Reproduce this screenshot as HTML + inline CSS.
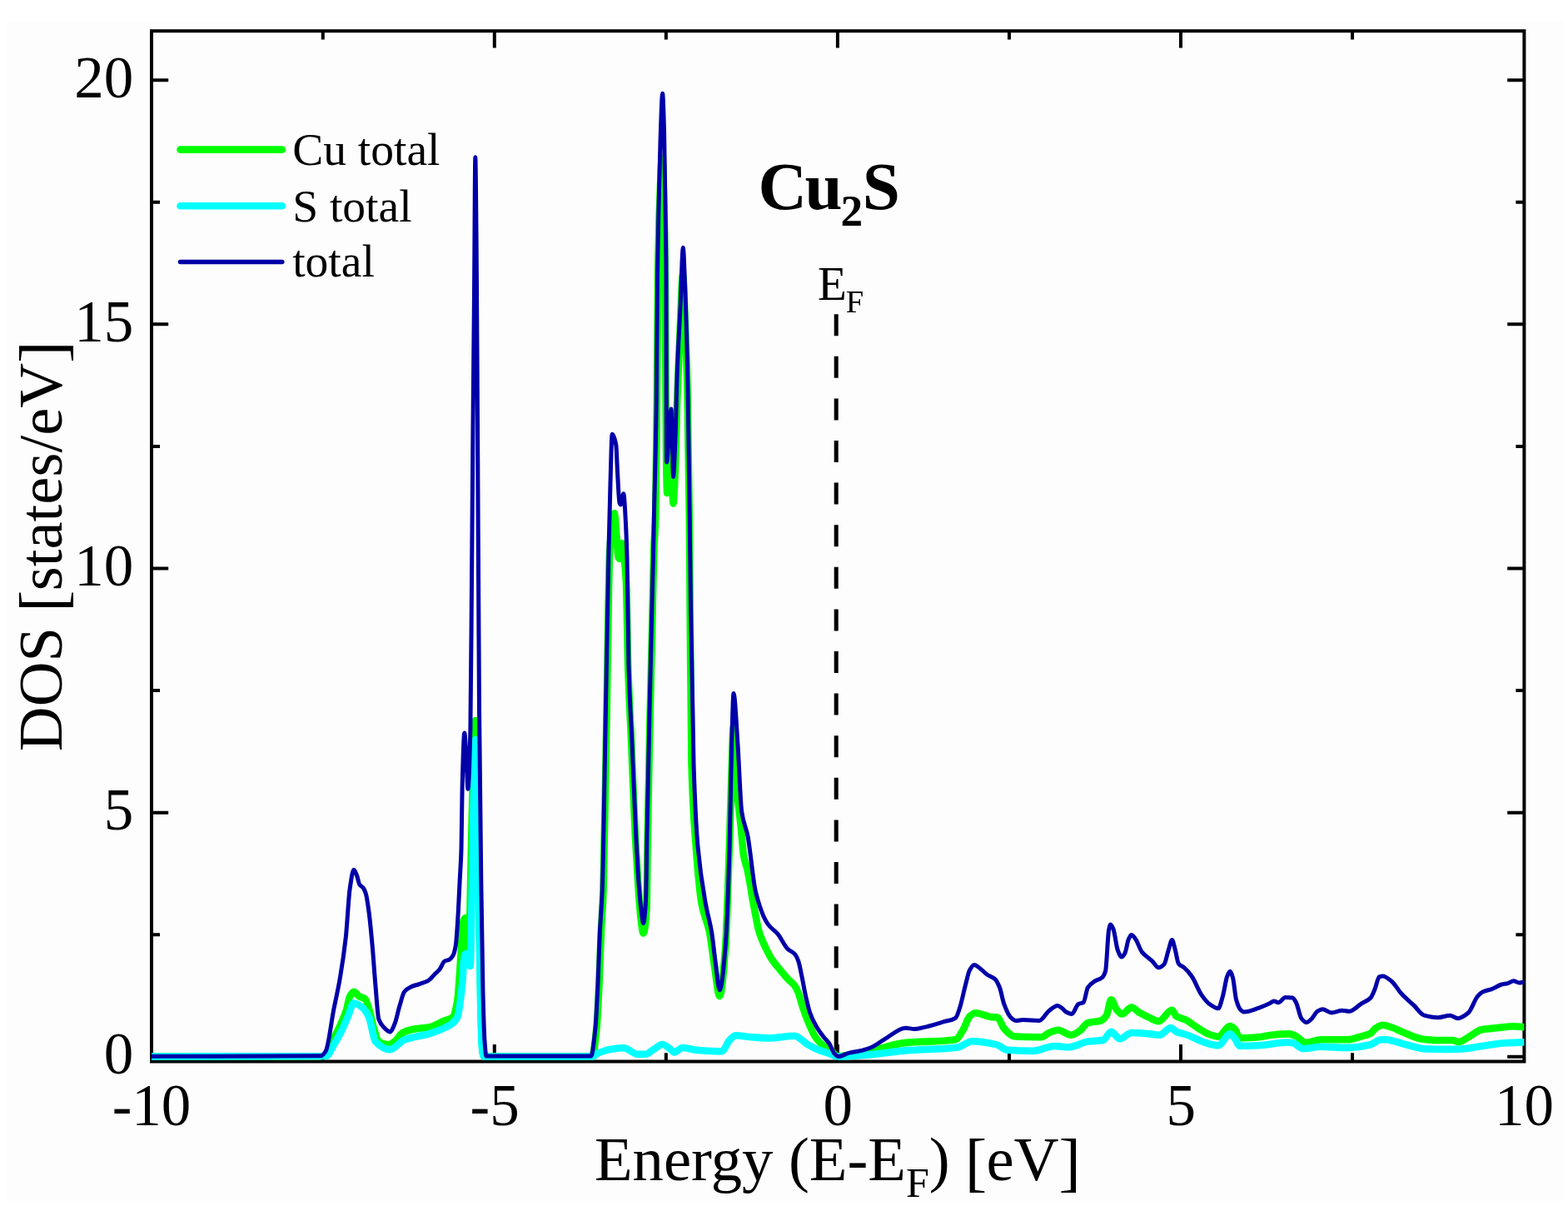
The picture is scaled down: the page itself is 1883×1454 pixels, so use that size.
<!DOCTYPE html>
<html><head><meta charset="utf-8"><title>DOS Cu2S</title>
<style>
html,body{margin:0;padding:0;background:#fff;}
body{width:1883px;height:1454px;overflow:hidden;}
svg{display:block;}
text{font-family:"Liberation Serif","Times New Roman",serif;fill:#000;}
</style></head><body>
<svg width="1883" height="1454" viewBox="0 0 1883 1454">
<rect x="0" y="0" width="1883" height="1454" fill="#ffffff"/>
<rect x="8" y="25" width="1872" height="1419" fill="#fdfdfd"/>
<defs><clipPath id="pc"><rect x="182" y="0" width="1648.4" height="1277.5"/></clipPath></defs>
<line x1="1004.2" y1="377.2" x2="1004.2" y2="1266" stroke="#000" stroke-width="5" stroke-dasharray="26 24.6"/>
<path d="M387.75 37.20 V47.40 M387.75 1274.50 V1264.30 M593.80 37.20 V57.60 M593.80 1274.50 V1254.10 M799.85 37.20 V47.40 M799.85 1274.50 V1264.30 M1005.90 37.20 V57.60 M1005.90 1274.50 V1254.10 M1211.95 37.20 V47.40 M1211.95 1274.50 V1264.30 M1418.00 37.20 V57.60 M1418.00 1274.50 V1254.10 M1624.05 37.20 V47.40 M1624.05 1274.50 V1264.30 M182.00 1268.80 H202.20 M1830.40 1268.80 H1810.20 M182.00 1122.22 H192.00 M1830.40 1122.22 H1820.40 M182.00 975.65 H202.20 M1830.40 975.65 H1810.20 M182.00 829.07 H192.00 M1830.40 829.07 H1820.40 M182.00 682.50 H202.20 M1830.40 682.50 H1810.20 M182.00 535.92 H192.00 M1830.40 535.92 H1820.40 M182.00 389.35 H202.20 M1830.40 389.35 H1810.20 M182.00 242.77 H192.00 M1830.40 242.77 H1820.40 M182.00 96.20 H202.20 M1830.40 96.20 H1810.20" stroke="#000" stroke-width="4" fill="none"/>
<rect x="182" y="37.2" width="1648.4" height="1237.3" fill="none" stroke="#000" stroke-width="4"/>
<g clip-path="url(#pc)">
<path d="M182.00 1268.50 C251.33 1268.33 320.67 1268.48 390.00 1268.00 C392.97 1267.98 395.93 1256.40 398.90 1250.50 C402.10 1244.14 405.30 1238.35 408.50 1231.20 C411.07 1225.46 413.63 1220.07 416.20 1212.00 C417.50 1207.91 418.80 1198.92 420.10 1196.50 C421.70 1193.52 423.30 1190.80 424.90 1190.80 C427.13 1190.80 429.37 1195.23 431.60 1196.50 C433.87 1197.79 436.13 1197.67 438.40 1199.40 C440.00 1200.62 441.60 1206.98 443.20 1212.00 C445.13 1218.07 447.07 1228.83 449.00 1235.00 C450.93 1241.17 452.87 1249.26 454.80 1250.50 C458.63 1252.97 462.47 1254.30 466.30 1254.30 C468.87 1254.30 471.43 1252.22 474.00 1250.50 C477.23 1248.33 480.47 1241.60 483.70 1239.90 C487.53 1237.89 491.37 1236.78 495.20 1236.00 C502.27 1234.56 509.33 1234.60 516.40 1233.10 C522.20 1231.87 528.00 1227.81 533.80 1225.40 C537.00 1224.07 540.20 1224.02 543.40 1221.60 C545.33 1220.14 547.27 1212.92 549.20 1202.30 C550.47 1195.34 551.73 1172.08 553.00 1154.10 C553.97 1140.38 554.93 1111.34 555.90 1107.90 C556.87 1104.46 557.83 1102.10 558.80 1102.10 C559.47 1102.10 560.13 1132.16 560.80 1134.90 C561.53 1137.91 562.27 1140.00 563.00 1140.00 C563.83 1140.00 564.67 1074.92 565.50 1040.00 C566.33 1005.08 567.17 954.45 568.00 930.00 C569.00 900.66 570.00 865.00 571.00 865.00 C571.83 865.00 572.67 918.50 573.50 960.00 C574.17 993.20 574.83 1058.93 575.50 1100.00 C576.17 1141.07 576.83 1186.46 577.50 1210.00 C578.17 1233.54 578.83 1258.75 579.50 1262.00 C580.33 1266.06 581.17 1268.50 582.00 1268.50 C625.00 1268.50 668.00 1268.50 711.00 1268.50 C712.83 1268.50 714.67 1251.80 716.50 1234.00 C717.50 1224.29 718.50 1202.32 719.50 1181.00 C720.27 1164.65 721.03 1137.34 721.80 1120.50 C722.70 1100.73 723.60 1094.08 724.50 1070.00 C725.83 1034.32 727.17 930.09 728.50 860.00 C729.77 793.42 731.03 679.77 732.30 660.00 C733.37 643.36 734.43 637.71 735.50 630.00 C736.27 624.46 737.03 616.20 737.80 616.20 C738.70 616.20 739.60 634.89 740.50 645.00 C741.20 652.86 741.90 668.97 742.60 669.80 C743.23 670.55 743.87 671.00 744.50 671.00 C745.27 671.00 746.03 652.00 746.80 652.00 C747.53 652.00 748.27 659.34 749.00 665.00 C750.00 672.72 751.00 680.85 752.00 700.00 C752.73 714.04 753.47 776.87 754.20 800.00 C755.53 842.06 756.87 860.75 758.20 892.00 C759.73 927.94 761.27 971.72 762.80 1002.00 C763.93 1024.38 765.07 1043.62 766.20 1060.00 C767.40 1077.34 768.60 1095.72 769.80 1105.00 C770.70 1111.96 771.60 1120.50 772.50 1120.50 C773.83 1120.50 775.17 1111.20 776.50 1090.00 C776.93 1083.11 777.37 1025.67 777.80 1000.00 C778.73 944.72 779.67 902.33 780.60 860.00 C781.40 823.72 782.20 794.05 783.00 760.00 C783.77 727.37 784.53 681.51 785.30 660.00 C785.93 642.23 786.57 641.47 787.20 620.00 C787.77 600.79 788.33 534.87 788.90 480.00 C789.33 438.04 789.77 358.49 790.20 330.00 C790.80 290.56 791.40 266.45 792.00 250.00 C793.07 220.76 794.13 190.00 795.20 190.00 C795.93 190.00 796.67 222.19 797.40 250.00 C797.87 267.69 798.33 286.67 798.80 330.00 C799.03 351.67 799.27 424.98 799.50 460.00 C799.77 500.02 800.03 545.07 800.30 560.00 C800.60 576.79 800.90 592.00 801.20 592.00 C802.13 592.00 803.07 579.12 804.00 570.00 C804.67 563.48 805.33 545.00 806.00 545.00 C806.83 545.00 807.67 604.60 808.50 604.60 C809.20 604.60 809.90 585.43 810.60 570.00 C811.47 550.89 812.33 504.89 813.20 480.00 C814.30 448.41 815.40 424.13 816.50 400.00 C817.67 374.41 818.83 330.00 820.00 330.00 C820.83 330.00 821.67 360.12 822.50 380.00 C823.50 403.86 824.50 428.22 825.50 470.00 C826.27 502.03 827.03 549.64 827.80 620.00 C828.07 644.47 828.33 693.08 828.60 724.00 C829.23 797.43 829.87 894.10 830.50 916.90 C832.17 976.89 833.83 990.41 835.50 1013.00 C837.87 1045.08 840.23 1072.46 842.60 1085.30 C845.73 1102.29 848.87 1103.92 852.00 1119.00 C854.00 1128.63 856.00 1147.44 858.00 1160.00 C860.07 1172.98 862.13 1196.00 864.20 1196.00 C866.47 1196.00 868.73 1168.94 871.00 1140.00 C872.67 1118.72 874.33 1061.59 876.00 1013.00 C876.93 985.79 877.87 945.78 878.80 920.00 C879.47 901.59 880.13 872.00 880.80 872.00 C881.30 872.00 881.80 881.29 882.30 890.00 C882.80 898.71 883.30 929.63 883.80 937.60 C884.53 949.28 885.27 953.41 886.00 960.00 C886.70 966.29 887.40 970.67 888.10 976.90 C888.97 984.61 889.83 994.17 890.70 1003.00 C891.47 1010.82 892.23 1022.23 893.00 1026.80 C894.53 1035.93 896.07 1037.79 897.60 1044.70 C898.73 1049.81 899.87 1056.15 901.00 1062.60 C901.97 1068.10 902.93 1075.00 903.90 1080.50 C905.03 1086.95 906.17 1092.60 907.30 1098.40 C908.50 1104.54 909.70 1111.94 910.90 1116.30 C912.53 1122.23 914.17 1126.04 915.80 1130.00 C917.03 1132.99 918.27 1135.51 919.50 1138.00 C921.87 1142.79 924.23 1147.66 926.60 1151.30 C930.10 1156.68 933.60 1160.45 937.10 1164.70 C940.70 1169.07 944.30 1173.52 947.90 1177.20 C949.83 1179.17 951.77 1180.19 953.70 1182.60 C955.33 1184.64 956.97 1187.76 958.60 1191.60 C960.40 1195.83 962.20 1204.07 964.00 1209.40 C966.23 1216.02 968.47 1221.98 970.70 1227.30 C973.30 1233.50 975.90 1239.97 978.50 1244.00 C980.67 1247.36 982.83 1249.86 985.00 1252.00 C987.27 1254.24 989.53 1255.95 991.80 1257.60 C993.93 1259.16 996.07 1260.24 998.20 1261.80 C1000.80 1263.70 1003.40 1268.30 1006.00 1268.30 C1019.50 1268.30 1033.00 1264.06 1046.50 1261.40 C1059.77 1258.78 1073.03 1253.49 1086.30 1252.10 C1106.67 1249.97 1127.03 1251.38 1147.40 1248.20 C1150.50 1247.72 1153.60 1241.10 1156.70 1236.20 C1159.33 1232.03 1161.97 1222.69 1164.60 1220.30 C1166.83 1218.27 1169.07 1216.30 1171.30 1216.30 C1177.50 1216.30 1183.70 1220.14 1189.90 1220.90 C1192.53 1221.22 1195.17 1221.16 1197.80 1221.60 C1200.47 1222.05 1203.13 1232.00 1205.80 1234.90 C1209.77 1239.22 1213.73 1243.83 1217.70 1244.20 C1223.47 1244.73 1229.23 1244.84 1235.00 1245.00 C1240.20 1245.14 1245.40 1245.30 1250.60 1245.30 C1253.70 1245.30 1256.80 1241.26 1259.90 1240.00 C1263.43 1238.57 1266.97 1236.70 1270.50 1236.70 C1275.83 1236.70 1281.17 1242.70 1286.50 1242.70 C1290.03 1242.70 1293.57 1239.77 1297.10 1237.40 C1300.20 1235.32 1303.30 1229.06 1306.40 1228.10 C1311.70 1226.46 1317.00 1227.10 1322.30 1225.40 C1324.53 1224.68 1326.77 1222.31 1329.00 1218.80 C1330.77 1216.02 1332.53 1200.20 1334.30 1200.20 C1336.50 1200.20 1338.70 1209.62 1340.90 1212.10 C1343.10 1214.58 1345.30 1217.50 1347.50 1217.50 C1351.27 1217.50 1355.03 1209.50 1358.80 1209.50 C1362.13 1209.50 1365.47 1214.20 1368.80 1216.10 C1372.33 1218.11 1375.87 1219.84 1379.40 1221.40 C1383.40 1223.16 1387.40 1226.10 1391.40 1226.10 C1396.77 1226.10 1402.13 1212.80 1407.50 1212.80 C1409.20 1212.80 1410.90 1219.01 1412.60 1220.10 C1416.13 1222.36 1419.67 1222.43 1423.20 1224.10 C1428.53 1226.62 1433.87 1231.49 1439.20 1234.70 C1443.60 1237.34 1448.00 1240.49 1452.40 1242.00 C1455.93 1243.22 1459.47 1244.70 1463.00 1244.70 C1467.67 1244.70 1472.33 1232.10 1477.00 1232.10 C1479.07 1232.10 1481.13 1234.01 1483.20 1236.00 C1484.97 1237.70 1486.73 1246.20 1488.50 1246.20 C1496.30 1246.20 1504.10 1245.74 1511.90 1245.20 C1517.57 1244.81 1523.23 1242.98 1528.90 1242.50 C1535.27 1241.96 1541.63 1241.40 1548.00 1241.40 C1550.83 1241.40 1553.67 1242.89 1556.50 1244.10 C1560.40 1245.76 1564.30 1252.10 1568.20 1252.10 C1574.20 1252.10 1580.20 1248.30 1586.20 1248.30 C1596.83 1248.30 1607.47 1248.30 1618.10 1248.30 C1623.40 1248.30 1628.70 1246.03 1634.00 1244.60 C1637.90 1243.55 1641.80 1242.89 1645.70 1240.90 C1647.80 1239.83 1649.90 1235.80 1652.00 1234.50 C1654.87 1232.73 1657.73 1230.80 1660.60 1230.80 C1664.13 1230.80 1667.67 1232.38 1671.20 1233.50 C1675.43 1234.84 1679.67 1237.24 1683.90 1238.90 C1691.87 1242.03 1699.83 1246.50 1707.80 1247.50 C1714.17 1248.30 1720.53 1249.00 1726.90 1249.00 C1732.63 1249.00 1738.37 1249.00 1744.10 1249.00 C1746.67 1249.00 1749.23 1250.90 1751.80 1250.90 C1756.27 1250.90 1760.73 1246.60 1765.20 1244.20 C1769.63 1241.82 1774.07 1237.42 1778.50 1236.50 C1785.20 1235.11 1791.90 1234.83 1798.60 1234.10 C1804.97 1233.41 1811.33 1232.20 1817.70 1232.20 C1821.87 1232.20 1826.03 1232.87 1830.20 1233.20" fill="none" stroke="#00ff00" stroke-width="8.6" stroke-linejoin="round" stroke-linecap="round"/>
<path d="M182.00 1268.50 C252.00 1268.33 322.00 1268.48 392.00 1268.00 C394.67 1267.98 397.33 1260.35 400.00 1256.00 C403.33 1250.56 406.67 1244.69 410.00 1238.00 C412.67 1232.64 415.33 1226.05 418.00 1220.00 C420.30 1214.78 422.60 1204.20 424.90 1204.20 C428.43 1204.20 431.97 1207.09 435.50 1210.00 C438.07 1212.11 440.63 1216.08 443.20 1221.60 C445.77 1227.12 448.33 1247.77 450.90 1250.50 C456.70 1256.67 462.50 1260.10 468.30 1260.10 C474.07 1260.10 479.83 1250.69 485.60 1248.50 C495.87 1244.59 506.13 1244.04 516.40 1240.80 C524.13 1238.36 531.87 1236.00 539.60 1231.20 C542.80 1229.21 546.00 1227.52 549.20 1221.60 C551.13 1218.02 553.07 1200.72 555.00 1183.00 C555.93 1174.44 556.87 1147.33 557.80 1146.40 C558.70 1145.51 559.60 1145.00 560.50 1145.00 C561.23 1145.00 561.97 1151.39 562.70 1154.00 C563.33 1156.25 563.97 1160.00 564.60 1160.00 C565.17 1160.00 565.73 1123.86 566.30 1100.00 C566.93 1073.34 567.57 1032.47 568.20 1000.00 C568.80 969.24 569.40 927.68 570.00 910.00 C570.33 900.18 570.67 888.00 571.00 888.00 C571.67 888.00 572.33 923.57 573.00 950.00 C573.67 976.43 574.33 1018.93 575.00 1060.00 C575.67 1101.07 576.33 1170.79 577.00 1200.00 C577.57 1224.83 578.13 1248.56 578.70 1255.00 C579.37 1262.58 580.03 1268.50 580.70 1268.50 C624.47 1268.50 668.23 1268.50 712.00 1268.50 C713.73 1268.50 715.47 1265.86 717.20 1265.00 C719.80 1263.70 722.40 1262.79 725.00 1262.00 C727.97 1261.10 730.93 1260.24 733.90 1259.80 C738.93 1259.06 743.97 1258.30 749.00 1258.30 C754.57 1258.30 760.13 1265.80 765.70 1265.80 C768.73 1265.80 771.77 1265.80 774.80 1265.80 C778.20 1265.80 781.60 1261.94 785.00 1260.00 C788.50 1258.00 792.00 1254.00 795.50 1254.00 C799.17 1254.00 802.83 1258.28 806.50 1261.00 C807.53 1261.77 808.57 1263.60 809.60 1263.60 C812.90 1263.60 816.20 1258.00 819.50 1258.00 C825.57 1258.00 831.63 1260.53 837.70 1261.00 C847.33 1261.75 856.97 1262.40 866.60 1262.40 C869.80 1262.40 873.00 1252.07 876.20 1248.90 C878.63 1246.49 881.07 1243.20 883.50 1243.20 C889.10 1243.20 894.70 1244.55 900.30 1245.00 C908.33 1245.64 916.37 1246.50 924.40 1246.50 C934.43 1246.50 944.47 1243.70 954.50 1243.70 C957.00 1243.70 959.50 1246.38 962.00 1248.00 C964.83 1249.84 967.67 1252.67 970.50 1254.40 C974.77 1257.00 979.03 1259.11 983.30 1260.80 C987.57 1262.49 991.83 1263.47 996.10 1265.00 C998.93 1266.01 1001.77 1268.12 1004.60 1268.30 C1006.40 1268.41 1008.20 1268.50 1010.00 1268.50 C1022.17 1268.50 1034.33 1267.11 1046.50 1266.10 C1060.20 1264.96 1073.90 1262.53 1087.60 1261.40 C1108.40 1259.68 1129.20 1260.13 1150.00 1257.50 C1155.77 1256.77 1161.53 1250.20 1167.30 1250.20 C1177.03 1250.20 1186.77 1251.88 1196.50 1254.10 C1200.93 1255.11 1205.37 1260.46 1209.80 1260.80 C1219.87 1261.57 1229.93 1261.90 1240.00 1261.90 C1248.87 1261.90 1257.73 1256.00 1266.60 1256.00 C1272.33 1256.00 1278.07 1257.30 1283.80 1257.30 C1291.33 1257.30 1298.87 1251.73 1306.40 1250.60 C1312.60 1249.67 1318.80 1249.97 1325.00 1248.70 C1328.10 1248.06 1331.20 1238.70 1334.30 1238.70 C1337.83 1238.70 1341.37 1247.30 1344.90 1247.30 C1349.53 1247.30 1354.17 1240.00 1358.80 1240.00 C1366.10 1240.00 1373.40 1240.80 1380.70 1241.40 C1384.70 1241.73 1388.70 1242.70 1392.70 1242.70 C1397.13 1242.70 1401.57 1234.00 1406.00 1234.00 C1408.20 1234.00 1410.40 1237.73 1412.60 1238.70 C1417.03 1240.66 1421.47 1241.15 1425.90 1242.70 C1432.53 1245.03 1439.17 1249.31 1445.80 1251.30 C1451.53 1253.02 1457.27 1255.30 1463.00 1255.30 C1467.67 1255.30 1472.33 1241.40 1477.00 1241.40 C1479.07 1241.40 1481.13 1244.81 1483.20 1247.30 C1484.97 1249.42 1486.73 1255.80 1488.50 1255.80 C1496.30 1255.80 1504.10 1255.51 1511.90 1255.20 C1523.23 1254.75 1534.57 1251.50 1545.90 1251.50 C1548.00 1251.50 1550.10 1251.79 1552.20 1252.10 C1556.47 1252.74 1560.73 1259.00 1565.00 1259.00 C1572.07 1259.00 1579.13 1256.80 1586.20 1256.80 C1596.83 1256.80 1607.47 1257.90 1618.10 1257.90 C1627.30 1257.90 1636.50 1256.25 1645.70 1254.20 C1649.93 1253.25 1654.17 1248.30 1658.40 1248.30 C1660.90 1248.30 1663.40 1248.30 1665.90 1248.30 C1667.13 1248.30 1668.37 1248.74 1669.60 1249.00 C1675.97 1250.37 1682.33 1252.64 1688.70 1254.20 C1696.67 1256.15 1704.63 1259.25 1712.60 1259.50 C1720.57 1259.75 1728.53 1259.90 1736.50 1259.90 C1744.47 1259.90 1752.43 1259.49 1760.40 1259.00 C1768.37 1258.51 1776.33 1256.30 1784.30 1255.20 C1792.27 1254.10 1800.23 1252.82 1808.20 1252.30 C1815.53 1251.82 1822.87 1251.63 1830.20 1251.30" fill="none" stroke="#00ffff" stroke-width="8.6" stroke-linejoin="round" stroke-linecap="round"/>
<path d="M182.00 1268.30 C249.80 1268.13 317.60 1268.28 385.40 1267.80 C387.33 1267.79 389.27 1265.07 391.20 1262.00 C394.40 1256.91 397.60 1228.34 400.80 1212.00 C403.37 1198.90 405.93 1188.53 408.50 1173.40 C410.77 1160.04 413.03 1145.73 415.30 1125.20 C416.90 1110.71 418.50 1078.40 420.10 1067.40 C421.70 1056.40 423.30 1044.30 424.90 1044.30 C426.20 1044.30 427.50 1048.68 428.80 1052.00 C429.73 1054.38 430.67 1060.20 431.60 1061.70 C433.23 1064.33 434.87 1064.17 436.50 1066.50 C437.47 1067.88 438.43 1070.03 439.40 1073.20 C440.67 1077.36 441.93 1086.77 443.20 1096.30 C444.50 1106.08 445.80 1120.45 447.10 1134.90 C448.37 1148.98 449.63 1168.54 450.90 1183.00 C452.20 1197.84 453.50 1219.60 454.80 1223.50 C456.73 1229.29 458.67 1231.06 460.60 1233.10 C463.17 1235.80 465.73 1238.90 468.30 1238.90 C470.20 1238.90 472.10 1233.68 474.00 1229.30 C475.93 1224.85 477.87 1214.45 479.80 1208.10 C481.73 1201.75 483.67 1193.19 485.60 1190.80 C488.17 1187.62 490.73 1186.22 493.30 1185.00 C497.17 1183.15 501.03 1182.51 504.90 1181.10 C508.10 1179.93 511.30 1179.14 514.50 1177.30 C517.07 1175.82 519.63 1172.17 522.20 1169.60 C524.13 1167.67 526.07 1166.22 528.00 1163.80 C529.93 1161.38 531.87 1155.16 533.80 1154.10 C535.73 1153.04 537.67 1153.21 539.60 1152.20 C541.20 1151.36 542.80 1149.50 544.40 1146.40 C545.37 1144.53 546.33 1140.81 547.30 1134.90 C548.27 1128.99 549.23 1112.06 550.20 1096.30 C550.83 1085.98 551.47 1070.63 552.10 1057.80 C552.73 1044.97 553.37 1039.98 554.00 1019.30 C554.37 1007.33 554.73 959.81 555.10 945.80 C556.00 911.41 556.90 880.00 557.80 880.00 C558.47 880.00 559.13 894.74 559.80 905.00 C560.50 915.78 561.20 947.30 561.90 947.30 C562.90 947.30 563.90 917.12 564.90 874.80 C565.43 852.23 565.97 762.92 566.50 700.00 C567.00 641.01 567.50 565.78 568.00 508.00 C568.50 450.22 569.00 407.06 569.50 350.00 C569.93 300.54 570.37 188.80 570.80 188.80 C571.27 188.80 571.73 250.25 572.20 300.00 C572.63 346.19 573.07 436.53 573.50 508.00 C574.17 617.95 574.83 770.07 575.50 850.00 C576.27 941.92 577.03 1004.39 577.80 1060.00 C578.53 1113.19 579.27 1164.37 580.00 1192.70 C580.67 1218.45 581.33 1240.87 582.00 1250.00 C582.67 1259.13 583.33 1268.00 584.00 1268.00 C625.90 1268.00 667.80 1268.00 709.70 1268.00 C711.47 1268.00 713.23 1251.38 715.00 1234.00 C716.00 1224.16 717.00 1202.32 718.00 1181.00 C718.77 1164.65 719.53 1136.69 720.30 1120.50 C721.27 1100.08 722.23 1094.44 723.20 1070.00 C724.57 1035.45 725.93 931.92 727.30 860.00 C728.53 795.10 729.77 715.87 731.00 660.00 C731.67 629.80 732.33 601.97 733.00 580.00 C733.70 556.93 734.40 521.30 735.10 521.30 C736.70 521.30 738.30 525.77 739.90 535.00 C740.37 537.69 740.83 554.37 741.30 562.50 C742.20 578.19 743.10 601.57 744.00 603.80 C744.50 605.04 745.00 606.00 745.50 606.00 C746.60 606.00 747.70 592.80 748.80 592.80 C749.73 592.80 750.67 613.50 751.60 631.30 C752.07 640.20 752.53 652.32 753.00 670.00 C753.67 695.26 754.33 776.08 755.00 800.00 C756.33 847.84 757.67 861.07 759.00 892.00 C760.57 928.34 762.13 970.81 763.70 1002.00 C764.80 1023.90 765.90 1045.65 767.00 1060.00 C768.30 1076.96 769.60 1091.36 770.90 1100.00 C771.43 1103.54 771.97 1108.40 772.50 1108.40 C773.53 1108.40 774.57 1097.95 775.60 1080.00 C776.07 1071.89 776.53 1024.66 777.00 1000.00 C777.97 948.91 778.93 904.14 779.90 860.00 C780.67 824.99 781.43 792.63 782.20 760.00 C783.00 725.95 783.80 696.92 784.60 660.00 C784.87 647.69 785.13 633.14 785.40 620.00 C786.37 572.36 787.33 551.72 788.30 480.00 C788.70 450.32 789.10 360.36 789.50 330.00 C790.00 292.05 790.50 273.01 791.00 250.00 C791.67 219.32 792.33 189.27 793.00 170.00 C793.87 144.95 794.73 112.30 795.60 112.30 C796.27 112.30 796.93 136.16 797.60 160.00 C798.07 176.69 798.53 216.53 799.00 250.00 C799.33 273.91 799.67 272.54 800.00 330.00 C800.07 341.49 800.13 435.54 800.20 460.00 C800.33 508.91 800.47 555.00 800.60 555.00 C801.40 555.00 802.20 539.22 803.00 530.00 C804.00 518.48 805.00 491.00 806.00 491.00 C806.43 491.00 806.87 515.91 807.30 530.00 C807.70 543.01 808.10 572.50 808.50 572.50 C809.17 572.50 809.83 554.24 810.50 540.00 C811.50 518.64 812.50 465.16 813.50 440.00 C814.67 410.65 815.83 394.47 817.00 370.00 C818.10 346.93 819.20 297.30 820.30 297.30 C821.03 297.30 821.77 322.01 822.50 340.00 C823.63 367.81 824.77 405.79 825.90 460.00 C826.67 496.67 827.43 562.46 828.20 620.00 C828.63 652.52 829.07 695.28 829.50 724.40 C830.67 802.81 831.83 881.33 833.00 916.90 C834.57 964.67 836.13 994.91 837.70 1013.00 C840.93 1050.34 844.17 1066.91 847.40 1085.30 C849.80 1098.95 852.20 1104.56 854.60 1119.00 C856.20 1128.63 857.80 1145.99 859.40 1157.50 C861.00 1169.01 862.60 1188.80 864.20 1188.80 C866.60 1188.80 869.00 1162.70 871.40 1133.40 C873.00 1113.87 874.60 1067.55 876.20 1013.00 C877.03 984.59 877.87 920.93 878.70 892.80 C879.47 866.92 880.23 832.60 881.00 832.60 C882.63 832.60 884.27 869.47 885.90 892.80 C887.50 915.66 889.10 963.76 890.70 974.60 C893.10 990.86 895.50 991.40 897.90 1003.50 C901.10 1019.64 904.30 1058.18 907.50 1070.90 C912.33 1090.11 917.17 1102.48 922.00 1109.40 C926.00 1115.13 930.00 1116.59 934.00 1121.40 C938.00 1126.21 942.00 1135.69 946.00 1139.50 C948.83 1142.20 951.67 1142.46 954.50 1145.60 C955.93 1147.19 957.37 1150.17 958.80 1154.10 C960.23 1158.03 961.67 1166.49 963.10 1173.30 C964.50 1179.95 965.90 1188.34 967.30 1194.60 C969.10 1202.65 970.90 1210.89 972.70 1216.00 C975.17 1223.01 977.63 1227.70 980.10 1232.00 C983.30 1237.57 986.50 1241.70 989.70 1245.80 C991.83 1248.54 993.97 1250.11 996.10 1253.30 C997.87 1255.94 999.63 1261.95 1001.40 1264.00 C1003.20 1266.09 1005.00 1268.40 1006.80 1268.40 C1011.17 1268.40 1015.53 1265.14 1019.90 1264.10 C1024.77 1262.94 1029.63 1262.56 1034.50 1261.40 C1038.50 1260.45 1042.50 1259.18 1046.50 1257.50 C1052.23 1255.10 1057.97 1250.09 1063.70 1246.80 C1071.67 1242.23 1079.63 1234.20 1087.60 1234.20 C1091.13 1234.20 1094.67 1235.50 1098.20 1235.50 C1101.77 1235.50 1105.33 1234.35 1108.90 1233.60 C1116.87 1231.92 1124.83 1229.27 1132.80 1226.90 C1137.67 1225.45 1142.53 1225.37 1147.40 1222.30 C1149.17 1221.18 1150.93 1214.93 1152.70 1209.70 C1154.90 1203.18 1157.10 1191.33 1159.30 1183.10 C1161.07 1176.49 1162.83 1167.52 1164.60 1164.50 C1166.37 1161.48 1168.13 1158.50 1169.90 1158.50 C1172.13 1158.50 1174.37 1160.94 1176.60 1162.50 C1179.70 1164.66 1182.80 1168.37 1185.90 1170.50 C1189.00 1172.63 1192.10 1172.95 1195.20 1175.80 C1196.97 1177.43 1198.73 1181.36 1200.50 1185.80 C1202.27 1190.24 1204.03 1201.01 1205.80 1205.70 C1208.47 1212.78 1211.13 1219.16 1213.80 1221.60 C1216.00 1223.61 1218.20 1225.60 1220.40 1225.60 C1223.07 1225.60 1225.73 1224.50 1228.40 1224.50 C1234.93 1224.50 1241.47 1225.40 1248.00 1225.40 C1251.97 1225.40 1255.93 1216.45 1259.90 1213.50 C1263.23 1211.02 1266.57 1207.50 1269.90 1207.50 C1271.87 1207.50 1273.83 1209.36 1275.80 1210.80 C1277.13 1211.77 1278.47 1214.05 1279.80 1214.80 C1282.23 1216.18 1284.67 1217.50 1287.10 1217.50 C1289.77 1217.50 1292.43 1206.91 1295.10 1205.50 C1297.10 1204.44 1299.10 1204.73 1301.10 1203.50 C1302.87 1202.41 1304.63 1188.26 1306.40 1185.60 C1309.03 1181.63 1311.67 1180.03 1314.30 1178.30 C1317.40 1176.26 1320.50 1176.31 1323.60 1173.60 C1324.93 1172.44 1326.27 1170.24 1327.60 1165.70 C1328.93 1161.16 1330.27 1123.20 1331.60 1116.60 C1332.27 1113.30 1332.93 1109.90 1333.60 1109.90 C1334.70 1109.90 1335.80 1112.65 1336.90 1115.20 C1338.67 1119.29 1340.43 1135.87 1342.20 1140.50 C1343.77 1144.61 1345.33 1149.10 1346.90 1149.10 C1348.23 1149.10 1349.57 1146.76 1350.90 1144.40 C1352.43 1141.69 1353.97 1130.29 1355.50 1127.20 C1356.60 1124.99 1357.70 1122.50 1358.80 1122.50 C1360.37 1122.50 1361.93 1125.16 1363.50 1127.20 C1366.13 1130.62 1368.77 1139.79 1371.40 1143.10 C1374.07 1146.45 1376.73 1148.10 1379.40 1150.40 C1380.73 1151.55 1382.07 1152.51 1383.40 1153.70 C1386.07 1156.09 1388.73 1161.70 1391.40 1161.70 C1393.60 1161.70 1395.80 1160.00 1398.00 1157.70 C1399.77 1155.85 1401.53 1145.86 1403.30 1140.50 C1404.70 1136.26 1406.10 1128.50 1407.50 1128.50 C1408.77 1128.50 1410.03 1135.97 1411.30 1140.50 C1412.63 1145.26 1413.97 1155.28 1415.30 1157.00 C1417.50 1159.84 1419.70 1159.80 1421.90 1161.70 C1425.00 1164.38 1428.10 1167.93 1431.20 1172.30 C1435.17 1177.89 1439.13 1189.31 1443.10 1194.90 C1446.20 1199.27 1449.30 1203.33 1452.40 1205.50 C1455.93 1207.98 1459.47 1210.80 1463.00 1210.80 C1464.80 1210.80 1466.60 1202.29 1468.40 1196.20 C1470.17 1190.22 1471.93 1176.73 1473.70 1172.30 C1474.80 1169.54 1475.90 1166.30 1477.00 1166.30 C1478.17 1166.30 1479.33 1170.21 1480.50 1174.00 C1481.83 1178.34 1483.17 1195.25 1484.50 1200.00 C1486.20 1206.06 1487.90 1210.51 1489.60 1212.20 C1491.00 1213.59 1492.40 1214.90 1493.80 1214.90 C1499.83 1214.90 1505.87 1212.08 1511.90 1210.10 C1516.13 1208.71 1520.37 1206.77 1524.60 1204.80 C1526.37 1203.98 1528.13 1202.10 1529.90 1202.10 C1531.67 1202.10 1533.43 1203.70 1535.20 1203.70 C1538.03 1203.70 1540.87 1197.40 1543.70 1197.40 C1546.53 1197.40 1549.37 1197.55 1552.20 1197.90 C1553.63 1198.08 1555.07 1201.09 1556.50 1203.70 C1558.60 1207.53 1560.70 1220.12 1562.80 1222.80 C1564.77 1225.31 1566.73 1227.60 1568.70 1227.60 C1570.63 1227.60 1572.57 1225.52 1574.50 1223.90 C1577.00 1221.80 1579.50 1215.84 1582.00 1214.30 C1584.10 1213.01 1586.20 1211.70 1588.30 1211.70 C1591.87 1211.70 1595.43 1215.90 1599.00 1215.90 C1603.23 1215.90 1607.47 1213.30 1611.70 1213.30 C1614.53 1213.30 1617.37 1214.30 1620.20 1214.30 C1625.17 1214.30 1630.13 1207.88 1635.10 1204.80 C1638.63 1202.61 1642.17 1201.88 1645.70 1198.40 C1647.47 1196.66 1649.23 1191.93 1651.00 1187.80 C1652.77 1183.67 1654.53 1173.64 1656.30 1172.90 C1657.73 1172.30 1659.17 1171.90 1660.60 1171.90 C1664.13 1171.90 1667.67 1175.36 1671.20 1178.20 C1675.10 1181.34 1679.00 1188.76 1682.90 1193.00 C1688.00 1198.54 1693.10 1202.47 1698.20 1207.40 C1702.03 1211.11 1705.87 1217.64 1709.70 1218.80 C1715.43 1220.53 1721.17 1221.70 1726.90 1221.70 C1731.70 1221.70 1736.50 1219.30 1741.30 1219.30 C1744.47 1219.30 1747.63 1222.70 1750.80 1222.70 C1754.97 1222.70 1759.13 1219.45 1763.30 1216.00 C1767.10 1212.85 1770.90 1200.02 1774.70 1195.90 C1776.63 1193.80 1778.57 1192.06 1780.50 1191.10 C1784.30 1189.21 1788.10 1188.77 1791.90 1187.30 C1795.73 1185.82 1799.57 1182.98 1803.40 1182.00 C1805.93 1181.35 1808.47 1181.26 1811.00 1180.60 C1813.23 1180.02 1815.47 1177.70 1817.70 1177.70 C1819.93 1177.70 1822.17 1180.10 1824.40 1180.10 C1826.33 1180.10 1828.27 1179.50 1830.20 1179.20" fill="none" stroke="#0000a8" stroke-width="5.0" stroke-linejoin="round" stroke-linecap="round"/>
</g>
<g font-size="71"><text x="182.00" y="1350.8" text-anchor="middle">-10</text><text x="594.10" y="1350.8" text-anchor="middle">-5</text><text x="1006.20" y="1350.8" text-anchor="middle">0</text><text x="1418.30" y="1350.8" text-anchor="middle">5</text><text x="1830.40" y="1350.8" text-anchor="middle">10</text><text x="160.3" y="1289.40" text-anchor="end">0</text><text x="160.3" y="996.25" text-anchor="end">5</text><text x="160.3" y="703.10" text-anchor="end">10</text><text x="160.3" y="409.95" text-anchor="end">15</text><text x="160.3" y="116.80" text-anchor="end">20</text></g>
<text x="714" y="1417" font-size="74.7">Energy (E-E<tspan font-size="50" dy="20">F</tspan><tspan dy="-20">) </tspan><tspan font-size="79.3" dy="4.7" dx="-0.7">[</tspan><tspan dy="-4.7" dx="-0.7">eV</tspan><tspan font-size="79.3" dy="4.7">]</tspan></text>
<text transform="translate(73.5 902.2) rotate(-90)" font-size="74.6">DOS <tspan font-size="79.3" dy="4.7" dx="-0.7">[</tspan><tspan dy="-4.7" dx="-0.7">states/eV</tspan><tspan font-size="79.3" dy="4.7">]</tspan></text>
<g font-weight="bold"><text x="910.6" y="251.3" font-size="81">C</text><text x="966.6" y="251.3" font-size="81">u</text><text x="1009.4" y="271.2" font-size="53.3">2</text><text x="1035.8" y="251.3" font-size="81">S</text></g>
<text x="982.1" y="359.8" font-size="57">E</text><text x="1015.7" y="374.6" font-size="38.5">F</text>
<g stroke-linecap="round" stroke-width="8.6">
<line x1="216.5" y1="179.6" x2="338.8" y2="179.6" stroke="#00ff00"/>
<line x1="216.5" y1="247.3" x2="338.8" y2="247.3" stroke="#00ffff"/>
<line x1="216.5" y1="314.6" x2="338.8" y2="314.6" stroke="#0000a8" stroke-width="5.5"/>
</g>
<g font-size="55.5">
<text x="351.2" y="198.4">Cu total</text>
<text x="351.2" y="265.6">S total</text>
<text x="351.2" y="332.4">total</text>
</g>
</svg>
</body></html>
